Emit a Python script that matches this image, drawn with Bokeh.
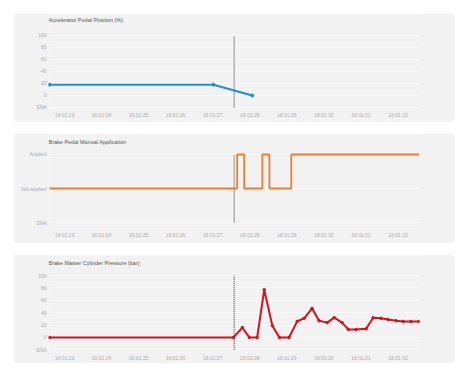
from bokeh.plotting import figure
from bokeh.layouts import column
from bokeh.models import FixedTicker, Range1d, Label
from bokeh.embed import file_html
from bokeh.resources import INLINE

# ---- data ----
tick_seconds = [23, 24, 25, 26, 27, 28, 29, 30, 31, 32]
tick_labels = ["16:01:23", "16:01:24", "16:01:25", "16:01:26", "16:01:27",
               "16:01:28", "16:01:29", "16:01:30", "16:01:31", "16:01:32"]
event_time = 27.58

accel_t = [22.6, 27.02, 28.07]
accel_v = [18, 18, 0]

brake_t = [22.6, 27.66, 27.85, 28.34, 28.53, 29.12, 32.57]
brake_v = [0, 1, 0, 1, 0, 1, 1]
brake_ticks = [-1, 0, 1]
brake_labels = ["SNA", "Not applied", "Applied"]

press_t = [22.6, 27.56, 27.80, 27.99, 28.20, 28.39, 28.61, 28.80, 29.06, 29.28,
           29.47, 29.68, 29.87, 30.09, 30.28, 30.49, 30.66, 30.87, 31.14, 31.33,
           31.54, 31.73, 31.95, 32.14, 32.35, 32.57]
press_v = [0, 0, 16, 0, 0, 77, 19, 0, 0, 26,
           31, 47, 27, 24, 32, 24, 13, 13, 14, 32,
           31, 29, 27, 26, 26, 26]

pct_ticks = [-20, 0, 20, 40, 60, 80, 100]
pct_labels = ["SNA", "0", "20", "40", "60", "80", "100"]

BG = "#f2f2f2"
FONT = "Liberation Sans"
X0, X1 = 22.57, 32.58


def make_fig(title, height, y0, y1, bottom, yticks, ylabels, xstand, title_y):
    p = figure(width=442, height=height, output_backend="svg", toolbar_location=None,
               title=None,
               x_range=Range1d(X0, X1), y_range=Range1d(y0, y1),
               min_border_left=35, min_border_right=36,
               min_border_top=1, min_border_bottom=bottom,
               background_fill_color=BG, border_fill_color=BG,
               outline_line_color=None,
               styles={"border-radius": "5px", "overflow": "hidden"})
    p.add_layout(Label(x=X0, y=title_y, text=title, text_font=FONT,
                       text_font_size="5.5px", text_color="#555555",
                       text_baseline="middle", text_align="left"))
    p.xaxis.ticker = FixedTicker(ticks=tick_seconds)
    p.xaxis.major_label_overrides = {t: l for t, l in zip(tick_seconds, tick_labels)}
    p.yaxis.ticker = FixedTicker(ticks=yticks)
    p.yaxis.major_label_overrides = {t: l for t, l in zip(yticks, ylabels)}
    for ax in (p.xaxis[0], p.yaxis[0]):
        ax.axis_line_color = None
        ax.major_tick_line_color = None
        ax.minor_tick_line_color = None
        ax.major_tick_out = 0
        ax.major_tick_in = 0
        ax.minor_tick_out = 0
        ax.minor_tick_in = 0
        ax.major_label_text_font = FONT
        ax.major_label_text_font_size = "5px"
        ax.major_label_text_color = "#aaaaaa"
    p.xaxis.major_label_standoff = xstand
    p.yaxis.major_label_standoff = 2
    p.xgrid.visible = False
    p.ygrid.grid_line_color = "#f9f9f9"
    p.ygrid.grid_line_width = 1
    p.segment(x0=[event_time], y0=[yticks[0]], x1=[event_time], y1=[yticks[-1]],
              line_color="#333333", line_width=1, line_dash="1 1")
    return p


p1 = make_fig("Accelerator Pedal Position (%)", 109, -21.7, 135, 14,
              pct_ticks, pct_labels, 3, 125)
p1.line(accel_t, accel_v, line_color="#1b90d3", line_width=2)
p1.scatter(accel_t, accel_v, size=3, color="#1b90d3")

p2 = make_fig("Brake Pedal Manual Application", 110, -1.088, 1.588, 18,
              brake_ticks, brake_labels, 6, 1.382)
p2.step(brake_t, brake_v, mode="after", line_color="#ee7d31", line_width=1.8)

p3 = make_fig("Brake Master Cylinder Pressure (bar)", 109, -22.6, 132.3, 12,
              pct_ticks, pct_labels, 3, 119.4)
p3.line(press_t, press_v, line_color="#d3121f", line_width=2)
p3.scatter(press_t, press_v, size=2.5, color="#d3121f")

layout = column(p1, p2, p3, spacing=11, margin=(13, 0, 0, 13))

open("out.html", "w").write(file_html(layout, INLINE))
